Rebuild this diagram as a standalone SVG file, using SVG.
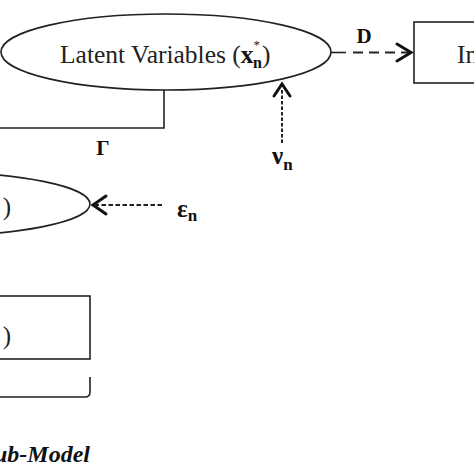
<svg xmlns="http://www.w3.org/2000/svg" width="474" height="474" viewBox="0 0 474 474">
<style>
.sh{fill:#fff;stroke:#222;stroke-width:1.6}
.ln{fill:none;stroke:#222;stroke-width:1.6}
.dash{fill:none;stroke:#222;stroke-width:2}
.chev{fill:none;stroke:#111;stroke-width:3;stroke-linejoin:miter;stroke-linecap:round}
.t{font-family:"Liberation Serif","Times New Roman",serif;fill:#222}
.b{font-family:"Liberation Serif","Times New Roman",serif;font-weight:bold;fill:#111}
</style>
<rect width="474" height="474" fill="#fff"/>
<g id="connectors">
  <path class="ln" d="M164,90 V128 H-4"/>
  <path class="ln" d="M330,52.5 H346"/>
  <path class="dash" d="M353,52.5 H409" stroke-dasharray="10,6"/>
  <path class="chev" d="M397,44 L411,52.5 L397,61"/>
  <path class="dash" d="M282,143 V88" stroke-dasharray="3.5,2"/>
  <path class="chev" d="M274,96 L282,84 L290,96"/>
  <path class="dash" d="M162,205 H96" stroke-dasharray="4.5,2.5"/>
  <path class="chev" d="M106,196 L93,205 L106,214"/>
  <path class="ln" d="M-4,397 H85 Q90,397 90,392 V377"/>
</g>
<g id="latent">
  <ellipse class="sh" cx="166" cy="52" rx="165" ry="38"/>
  <text class="t" x="60" y="63" font-size="25.5">Latent Variables (<tspan class="b">x</tspan><tspan font-size="13" dy="-14">*</tspan><tspan class="b" font-size="16" dx="-7" dy="19">n</tspan><tspan dy="-5">)</tspan></text>
</g>
<g id="indicators">
  <rect class="sh" x="414" y="22" width="80" height="61"/>
  <text class="t" x="457" y="63" font-size="25.5">In</text>
</g>
<g id="ellipse2">
  <ellipse class="sh" cx="-70" cy="204" rx="160" ry="32"/>
  <text class="t" x="11" y="215" font-size="25" text-anchor="end">)</text>
</g>
<g id="rect2">
  <rect class="sh" x="-10" y="296" width="100" height="63"/>
  <text class="t" x="11" y="344" font-size="25" text-anchor="end">)</text>
</g>
<g id="labels">
  <text class="b" x="364" y="43" font-size="21" text-anchor="middle">D</text>
  <text class="b" x="103" y="155" font-size="21" text-anchor="middle">Γ</text>
  <text class="b" x="272" y="164" font-size="25">ν<tspan font-size="17" dy="6">n</tspan></text>
  <text class="b" x="177" y="217" font-size="25">ε<tspan font-size="17" dy="4">n</tspan></text>
  <text class="b" x="90" y="462" font-size="24" font-style="italic" text-anchor="end">Sub-Model</text>
</g>
</svg>
